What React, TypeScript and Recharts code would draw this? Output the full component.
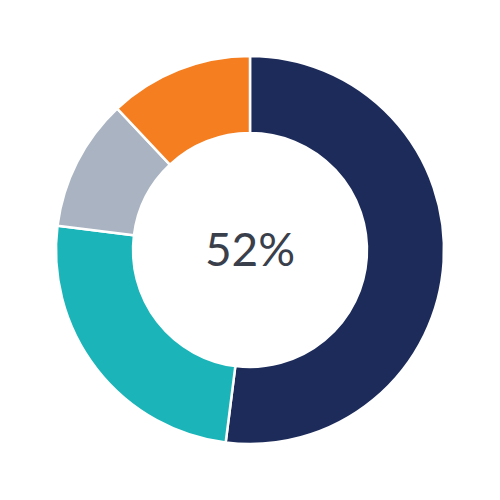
import React from 'react';
import { PieChart, Pie, Cell, Label } from 'recharts';

// Share of each segment, clockwise from 12 o'clock
const segments = ['Navy', 'Teal', 'Gray', 'Orange'];
const shares = [52, 25, 11, 12];
const centerLabel = '52%';

const COLORS = ['#1c2b5a', '#1bb4b8', '#a9b3c1', '#f47e20'];

const pieData = segments.map((name, i) => ({ name, value: shares[i] }));

const App: React.FC = () => {
  return (
    <div style={{ position: 'absolute', left: 0, top: 0, width: 500, height: 500, background: '#fff' }}>
      <PieChart width={500} height={500} margin={{ top: 0, right: 0, bottom: 0, left: 0 }}>
        <Pie
          data={pieData}
          dataKey="value"
          cx={250}
          cy={250}
          innerRadius={117}
          outerRadius={194}
          startAngle={90}
          endAngle={-270}
          stroke="#fff"
          strokeWidth={2.5}
          isAnimationActive={false}
        >
          {pieData.map((entry, index) => (
            <Cell key={`cell-${index}`} fill={COLORS[index % COLORS.length]} />
          ))}
          <Label
            value={centerLabel}
            position="center"
            fill="#3a404b"
            style={{ fontFamily: 'Lato, sans-serif', fontSize: 46, fontWeight: 400 }}
          />
        </Pie>
      </PieChart>
    </div>
  );
};

export default App;
